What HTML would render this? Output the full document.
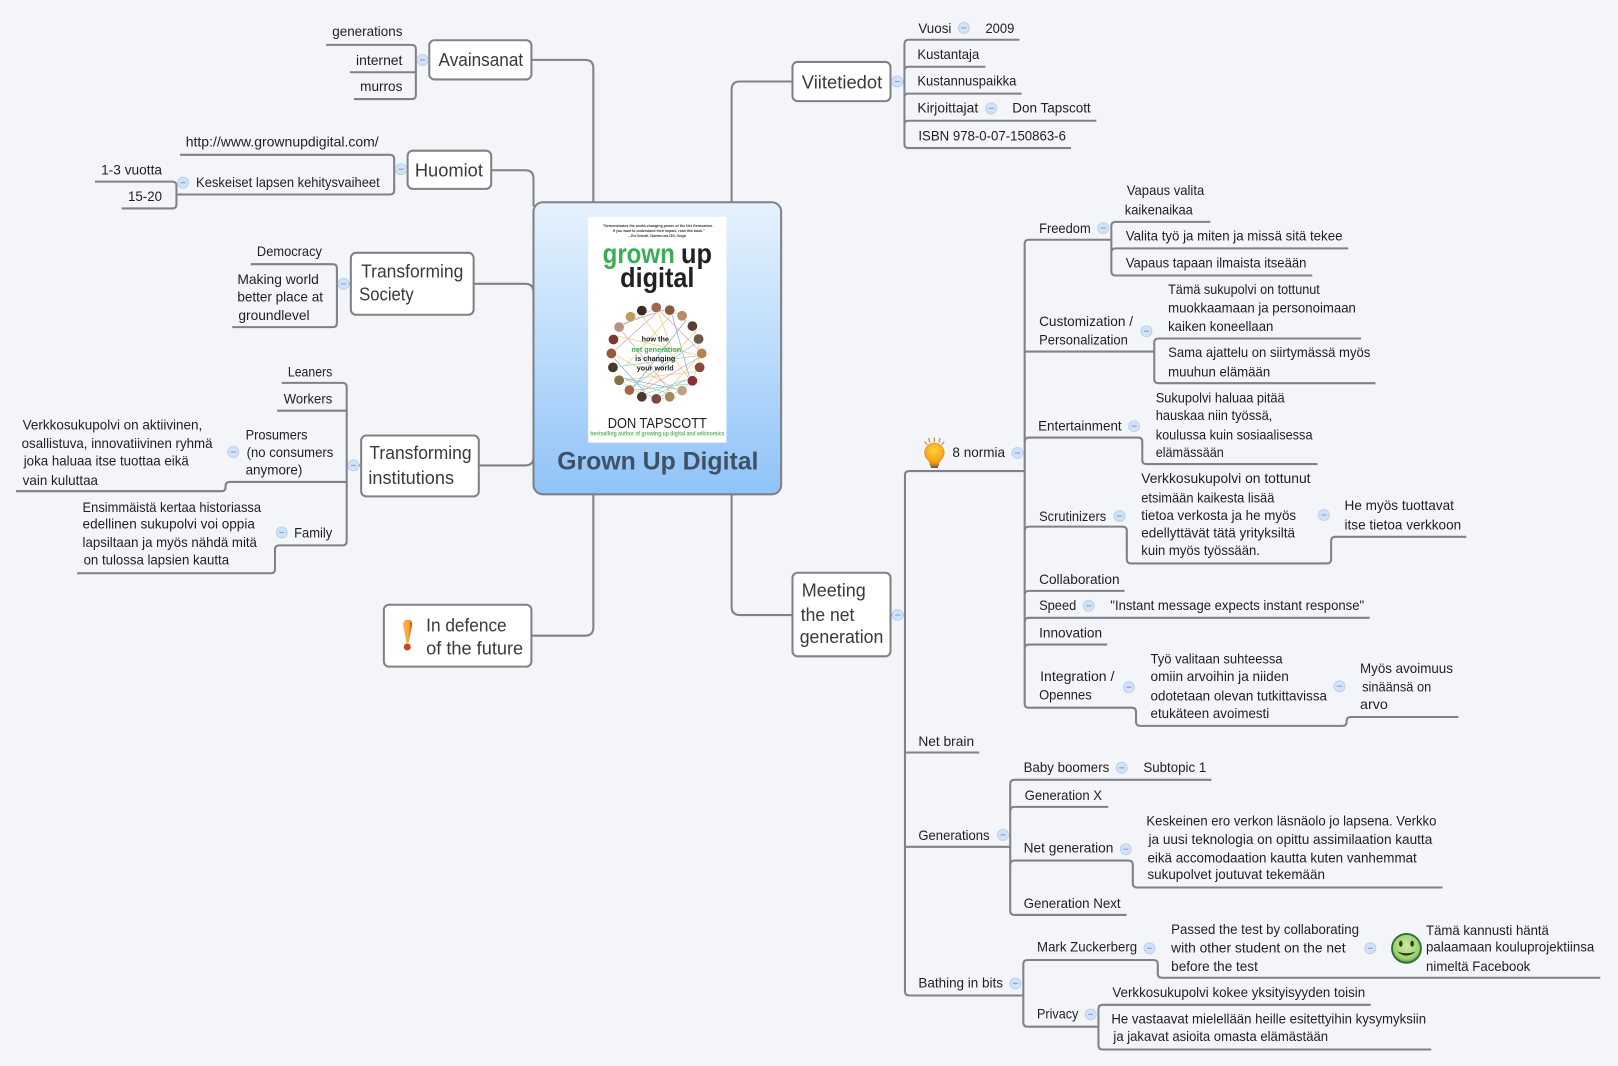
<!DOCTYPE html>
<html lang="fi"><head><meta charset="utf-8"><title>Grown Up Digital</title>
<style>
html,body{margin:0;padding:0;background:#f3f5f9;width:1618px;height:1066px;overflow:hidden}
svg{display:block}
text{font-family:"Liberation Sans",sans-serif}
.t text{font-size:13px;fill:#1f1f1f}
.b text{font-size:17.500px;fill:#3a3a3a}
.l{fill:none;stroke:#808287;stroke-width:2}
.n{fill:#fff;stroke:#808287;stroke-width:2}
</style></head><body>
<svg width="1618" height="1066" viewBox="0 0 1568 1033" xmlns="http://www.w3.org/2000/svg" preserveAspectRatio="none">
<defs>
<linearGradient id="g" x1="0" y1="0" x2="0" y2="1"><stop offset="0" stop-color="#e6f2fd"/><stop offset=".5" stop-color="#bcdcfb"/><stop offset="1" stop-color="#8fc3f8"/></linearGradient>
<radialGradient id="bulb" cx=".5" cy=".35" r=".65"><stop offset="0" stop-color="#ffd23c"/><stop offset=".7" stop-color="#f9a91a"/><stop offset="1" stop-color="#ee8f12"/></radialGradient>
<radialGradient id="sm" cx=".5" cy=".42" r=".6"><stop offset="0" stop-color="#cdeba0"/><stop offset=".75" stop-color="#9ed06a"/><stop offset="1" stop-color="#3f8a3f"/></radialGradient>
<linearGradient id="ex" x1="0" y1="0" x2="1" y2="0"><stop offset="0" stop-color="#fbb84a"/><stop offset=".6" stop-color="#f9a534"/><stop offset="1" stop-color="#c8481e"/></linearGradient>
<g id="m"><circle r="5.300" fill="#d3e3f7" stroke="#b9d2ef" stroke-width="1"/><rect x="-2.500" y="-.6" width="5" height="1.200" fill="#86aad8"/></g>
</defs>
<rect width="1568" height="1033" fill="#f3f5f9"/>

<g class="l">
<path d="M515 58H567Q575 58 575 66V196"/>
<path d="M768 79H717Q709 79 709 87V196"/>
<path d="M476 165H509Q517 165 517 173V200"/>
<path d="M459 275H509Q517 275 517 283V300"/>
<path d="M464 451H509Q517 451 517 443V430"/>
<path d="M515 616H567Q575 616 575 608V479"/>
<path d="M768 596H717Q709 596 709 588V479"/>
<path d="M316 43.500H399Q403 43.500 403 47.500V92Q403 96 399 96H343M339 70H403"/>
<path d="M403 58H416"/>
<path d="M174.500 150H378Q382 150 382 154V184.500Q382 188.500 378 188.500H171"/>
<path d="M382 165H395"/>
<path d="M92 176H167Q171 176 171 180V198Q171 202 167 202H118"/>
<path d="M243 256H322.500Q326.500 256 326.500 260V313Q326.500 317 322.500 317H225"/>
<path d="M326.500 275H340"/>
<path d="M273 371H332Q336 371 336 375V524.500Q336 528.500 332 528.500H270.500Q266.500 528.500 266.500 532.500V551.500Q266.500 555.500 262.500 555.500H74.700"/>
<path d="M268.500 398H336M336 467H222.600Q218.600 467 218.600 471V472Q218.600 476 214.600 476H15.500"/>
<path d="M336 451H350"/>
<path d="M988 38.500H880.500Q876.500 38.500 876.500 42.500V139.500Q876.500 143.500 880.500 143.500H1038"/>
<path d="M876.500 68.500Q876.500 64.700 880.500 64.700H955M876.500 94Q876.500 90.700 880.500 90.700H990M876.500 120Q876.500 117 880.500 117H1062.500"/>
<path d="M863 79H876.500"/>
<path d="M993 456.500H881Q877 456.500 877 460.500V960.700Q877 964.700 881 964.700H992"/>
<path d="M863 596H877M877 729.200H949M877 820.600H979"/>
<path d="M1077 232.300H997Q993 232.300 993 236.300V681.800Q993 685.800 997 685.800H1096.900Q1100.900 685.800 1100.900 689.800V699.400Q1100.900 703.400 1104.900 703.400H1301Q1305 703.400 1305 699.400V698.800Q1305 694.800 1309 694.800H1413.300"/>
<path d="M1173 215H1081Q1077 215 1077 219V263Q1077 267 1081 267H1271.700M1077 244.700Q1077 240.700 1081 240.700H1306.600"/>
<path d="M993 340.700H1118.600"/>
<path d="M1319 328H1122.600Q1118.600 328 1118.600 332V367.300Q1118.600 371.300 1122.600 371.300H1333"/>
<path d="M993 428Q993 424 997 424H1103Q1107 424 1107 428V445.700Q1107 449.700 1111 449.700H1276.800"/>
<path d="M993 514.300Q993 510.300 997 510.300H1088Q1092 510.300 1092 514.300V542Q1092 546 1096 546H1286Q1290 546 1290 542V524.200Q1290 520.200 1294 520.200H1421"/>
<path d="M993 576.600Q993 572.600 997 572.600H1089.800M993 602.700Q993 598.700 997 598.700H1327.400M993 628.600Q993 624.600 997 624.600H1073"/>
<path d="M1174 755.700H983Q979 755.700 979 759.700V882.600Q979 886.600 983 886.600H1091.800"/>
<path d="M979 785.900Q979 781.900 983 781.900H1074"/>
<path d="M979 837.900Q979 833.900 983 833.900H1093.800Q1097.800 833.900 1097.800 837.900V856Q1097.800 860 1101.800 860H1398"/>
<path d="M1118 930.300H995.700Q991.700 930.300 991.700 934.300V990.900Q991.700 994.900 995.700 994.900H1064.500"/>
<path d="M1118 930.300Q1122 930.300 1122 934.300V943.500Q1122 947.500 1126 947.500H1550.800"/>
<path d="M1328.400 973.700H1068.500Q1064.500 973.700 1064.500 977.700V1013Q1064.500 1017 1068.500 1017H1387"/>
</g>

<rect class="n" x="416" y="39" width="99" height="38" rx="5"/>
<rect class="n" x="395" y="146" width="81" height="37" rx="5"/>
<rect class="n" x="340" y="245" width="119" height="60" rx="5"/>
<rect class="n" x="350" y="422" width="114" height="59" rx="5"/>
<rect class="n" x="372" y="586" width="143" height="60" rx="5"/>
<rect class="n" x="768" y="60" width="95" height="38" rx="5"/>
<rect class="n" x="768" y="555" width="95" height="81" rx="5"/>

<rect x="517" y="196" width="240" height="283" rx="9" fill="url(#g)" stroke="#7f8186" stroke-width="2"/>
<rect x="570" y="210" width="134" height="219" fill="#fff"/>
<g>
<text x="584" y="255" font-size="27" font-weight="bold" fill="#3aae54" textLength="70" lengthAdjust="spacingAndGlyphs">grown</text>
<text x="660" y="255" font-size="27" font-weight="bold" fill="#222" textLength="30" lengthAdjust="spacingAndGlyphs">up</text>
<text x="601" y="278" font-size="27" font-weight="bold" fill="#222" textLength="72" lengthAdjust="spacingAndGlyphs">digital</text>
<text x="584" y="220" font-size="3.900" font-weight="bold" fill="#333" textLength="107" lengthAdjust="spacingAndGlyphs">"Demonstrates the world-changing power of the Net Generation.</text>
<text x="594" y="225" font-size="3.900" font-weight="bold" fill="#333" textLength="89" lengthAdjust="spacingAndGlyphs">If you want to understand their impact, read this book."</text>
<text x="609" y="229.500" font-size="3.900" font-weight="bold" fill="#333" textLength="56" lengthAdjust="spacingAndGlyphs">—Eric Schmidt, Chairman and CEO, Google</text>
</g>
<g stroke-width=".7" opacity=".8" fill="none">
<path d="M601 317L636 298M636 298L650 335M655 300L606 355M675 320L620 380M680 342L640 386M593 342L660 380M606 368L675 360M620 303L670 370M596 325L680 345" stroke="#e8c15a"/>
<path d="M611 307Q636 295 661 306M671 316Q684 340 671 369M600 368Q640 400 671 369" stroke="#ecd27a" stroke-width="1"/>
<path d="M600 315L645 300M593 345L625 380M597 365L660 378M650 300L668 365M665 310L612 378" stroke="#6b8ed6"/>
<path d="M612 375L678 330M630 385L672 365M640 386L655 385M606 368L650 382M600 355L675 345M615 378L668 372M625 382L664 368" stroke="#7cc4b4"/>
<path d="M636 298L680 342M593 342L640 300M620 380L680 345M602 320L655 386" stroke="#d88aa8"/>
</g>
<g fill="#a87a5c" stroke="#fff" stroke-width=".5">
<circle cx="636" cy="298" r="5" fill="#9a6a4c"/><circle cx="649" cy="300.500" r="5" fill="#8a5a3c"/><circle cx="661" cy="306" r="5" fill="#b98a66"/><circle cx="671" cy="316" r="5" fill="#5c3f30"/><circle cx="677" cy="328.500" r="5" fill="#6d5a48"/><circle cx="680" cy="342.500" r="5" fill="#b58250"/><circle cx="678" cy="356" r="5" fill="#8a4a3a"/><circle cx="671" cy="369" r="5" fill="#8a3038"/><circle cx="661" cy="378.500" r="5" fill="#c2a08a"/><circle cx="649" cy="384.500" r="5" fill="#a08a5a"/><circle cx="636" cy="386.500" r="5" fill="#7a4a40"/><circle cx="622" cy="384.500" r="5" fill="#4a3a30"/><circle cx="610" cy="378" r="5" fill="#a8664a"/><circle cx="600" cy="368.500" r="5" fill="#8a7040"/><circle cx="594" cy="356" r="5" fill="#4a3a28"/><circle cx="592.500" cy="342.500" r="5" fill="#9a5a38"/><circle cx="594.500" cy="329" r="5" fill="#7a3a30"/><circle cx="600" cy="317" r="5" fill="#b89088"/><circle cx="611" cy="307" r="5" fill="#c09a60"/><circle cx="622" cy="301" r="5" fill="#3a2a20"/>
</g>
<g font-size="7" font-weight="bold" text-anchor="middle" fill="#222">
<text x="635" y="331">how the</text><text x="636" y="341" fill="#3aae54">net generation</text><text x="635" y="350">is changing</text><text x="635" y="359">your world</text></g>
<text x="589" y="415" font-size="14" fill="#222" textLength="96" lengthAdjust="spacingAndGlyphs">DON TAPSCOTT</text>
<text x="572" y="422" font-size="6.500" font-weight="bold" fill="#5cb85c" textLength="130" lengthAdjust="spacingAndGlyphs">bestselling author of growing up digital and wikinomics</text>
<text x="540" y="455" font-size="24" font-weight="bold" fill="#3f5164" textLength="195" lengthAdjust="spacingAndGlyphs">Grown Up Digital</text>

<g class="b">
<text x="425" y="64" textLength="82" lengthAdjust="spacingAndGlyphs">Avainsanat</text>
<text x="402" y="171" textLength="66" lengthAdjust="spacingAndGlyphs">Huomiot</text>
<text x="350" y="269" textLength="99" lengthAdjust="spacingAndGlyphs">Transforming</text>
<text x="348" y="291" textLength="53" lengthAdjust="spacingAndGlyphs">Society</text>
<text x="358" y="445" textLength="99" lengthAdjust="spacingAndGlyphs">Transforming</text>
<text x="357" y="469" textLength="83" lengthAdjust="spacingAndGlyphs">institutions</text>
<text x="413" y="612" textLength="78" lengthAdjust="spacingAndGlyphs">In defence</text>
<text x="413" y="634" textLength="94" lengthAdjust="spacingAndGlyphs">of the future</text>
<text x="777" y="86" textLength="78" lengthAdjust="spacingAndGlyphs">Viitetiedot</text>
<text x="777" y="578" textLength="62" lengthAdjust="spacingAndGlyphs">Meeting</text>
<text x="776" y="602" textLength="52" lengthAdjust="spacingAndGlyphs">the net</text>
<text x="775" y="623" textLength="81" lengthAdjust="spacingAndGlyphs">generation</text>
</g>

<g class="t">
<text x="322" y="35" textLength="68" lengthAdjust="spacingAndGlyphs">generations</text>
<text x="345" y="63" textLength="45" lengthAdjust="spacingAndGlyphs">internet</text>
<text x="349" y="88" textLength="41" lengthAdjust="spacingAndGlyphs">murros</text>
<text x="180" y="142" textLength="187" lengthAdjust="spacingAndGlyphs">http://www.grownupdigital.com/</text>
<text x="190" y="181" textLength="178" lengthAdjust="spacingAndGlyphs">Keskeiset lapsen kehitysvaiheet</text>
<text x="98" y="169" textLength="59" lengthAdjust="spacingAndGlyphs">1-3 vuotta</text>
<text x="124" y="195" textLength="33" lengthAdjust="spacingAndGlyphs">15-20</text>
<text x="249" y="248" textLength="63" lengthAdjust="spacingAndGlyphs">Democracy</text>
<text x="230" y="275" textLength="79" lengthAdjust="spacingAndGlyphs">Making world</text>
<text x="230" y="292" textLength="83" lengthAdjust="spacingAndGlyphs">better place at</text>
<text x="231" y="310" textLength="69" lengthAdjust="spacingAndGlyphs">groundlevel</text>
<text x="279" y="365" textLength="43" lengthAdjust="spacingAndGlyphs">Leaners</text>
<text x="275" y="391" textLength="47" lengthAdjust="spacingAndGlyphs">Workers</text>
<text x="22" y="416" textLength="174" lengthAdjust="spacingAndGlyphs">Verkkosukupolvi on aktiivinen,</text>
<text x="21" y="434" textLength="185" lengthAdjust="spacingAndGlyphs">osallistuva, innovatiivinen ryhmä</text>
<text x="23" y="451" textLength="160" lengthAdjust="spacingAndGlyphs">joka haluaa itse tuottaa eikä</text>
<text x="22" y="470" textLength="73" lengthAdjust="spacingAndGlyphs">vain kuluttaa</text>
<text x="238" y="426" textLength="60" lengthAdjust="spacingAndGlyphs">Prosumers</text>
<text x="239" y="443" textLength="84" lengthAdjust="spacingAndGlyphs">(no consumers</text>
<text x="238" y="460" textLength="55" lengthAdjust="spacingAndGlyphs">anymore)</text>
<text x="285" y="521" textLength="37" lengthAdjust="spacingAndGlyphs">Family</text>
<text x="80" y="496" textLength="173" lengthAdjust="spacingAndGlyphs">Ensimmäistä kertaa historiassa</text>
<text x="80" y="512" textLength="167" lengthAdjust="spacingAndGlyphs">edellinen sukupolvi voi oppia</text>
<text x="80" y="530" textLength="169" lengthAdjust="spacingAndGlyphs">lapsiltaan ja myös nähdä mitä</text>
<text x="81" y="547" textLength="141" lengthAdjust="spacingAndGlyphs">on tulossa lapsien kautta</text>

<text x="890" y="32" textLength="32" lengthAdjust="spacingAndGlyphs">Vuosi</text>
<text x="955" y="32" textLength="28" lengthAdjust="spacingAndGlyphs">2009</text>
<text x="889" y="57" textLength="60" lengthAdjust="spacingAndGlyphs">Kustantaja</text>
<text x="889" y="83" textLength="96" lengthAdjust="spacingAndGlyphs">Kustannuspaikka</text>
<text x="889" y="109" textLength="59" lengthAdjust="spacingAndGlyphs">Kirjoittajat</text>
<text x="981" y="109" textLength="76" lengthAdjust="spacingAndGlyphs">Don Tapscott</text>
<text x="890" y="136" textLength="143" lengthAdjust="spacingAndGlyphs">ISBN 978-0-07-150863-6</text>

<text x="1092" y="189" textLength="75" lengthAdjust="spacingAndGlyphs">Vapaus valita</text>
<text x="1090" y="208" textLength="66" lengthAdjust="spacingAndGlyphs">kaikenaikaa</text>
<text x="1091" y="233" textLength="210" lengthAdjust="spacingAndGlyphs">Valita työ ja miten ja missä sitä tekee</text>
<text x="1091" y="259" textLength="175" lengthAdjust="spacingAndGlyphs">Vapaus tapaan ilmaista itseään</text>
<text x="1007" y="226" textLength="50" lengthAdjust="spacingAndGlyphs">Freedom</text>
<text x="1007" y="316" textLength="91" lengthAdjust="spacingAndGlyphs">Customization /</text>
<text x="1007" y="334" textLength="86" lengthAdjust="spacingAndGlyphs">Personalization</text>
<text x="1132" y="285" textLength="147" lengthAdjust="spacingAndGlyphs">Tämä sukupolvi on tottunut</text>
<text x="1132" y="303" textLength="182" lengthAdjust="spacingAndGlyphs">muokkaamaan ja personoimaan</text>
<text x="1132" y="321" textLength="102" lengthAdjust="spacingAndGlyphs">kaiken koneellaan</text>
<text x="1132" y="346" textLength="196" lengthAdjust="spacingAndGlyphs">Sama ajattelu on siirtymässä myös</text>
<text x="1132" y="365" textLength="99" lengthAdjust="spacingAndGlyphs">muuhun elämään</text>
<text x="1006" y="417" textLength="81" lengthAdjust="spacingAndGlyphs">Entertainment</text>
<text x="1120" y="390" textLength="125" lengthAdjust="spacingAndGlyphs">Sukupolvi haluaa pitää</text>
<text x="1120" y="407" textLength="113" lengthAdjust="spacingAndGlyphs">hauskaa niin työssä,</text>
<text x="1120" y="426" textLength="152" lengthAdjust="spacingAndGlyphs">koulussa kuin sosiaalisessa</text>
<text x="1120" y="443" textLength="66" lengthAdjust="spacingAndGlyphs">elämässään</text>
<text x="923" y="443" textLength="51" lengthAdjust="spacingAndGlyphs">8 normia</text>
<text x="1007" y="505" textLength="65" lengthAdjust="spacingAndGlyphs">Scrutinizers</text>
<text x="1106" y="468" textLength="164" lengthAdjust="spacingAndGlyphs">Verkkosukupolvi on tottunut</text>
<text x="1106" y="487" textLength="129" lengthAdjust="spacingAndGlyphs">etsimään kaikesta lisää</text>
<text x="1106" y="504" textLength="150" lengthAdjust="spacingAndGlyphs">tietoa verkosta ja he myös</text>
<text x="1106" y="521" textLength="149" lengthAdjust="spacingAndGlyphs">edellyttävät tätä yrityksiltä</text>
<text x="1106" y="538" textLength="115" lengthAdjust="spacingAndGlyphs">kuin myös työssään.</text>
<text x="1303" y="494" textLength="106" lengthAdjust="spacingAndGlyphs">He myös tuottavat</text>
<text x="1303" y="513" textLength="113" lengthAdjust="spacingAndGlyphs">itse tietoa verkkoon</text>
<text x="1007" y="566" textLength="78" lengthAdjust="spacingAndGlyphs">Collaboration</text>
<text x="1007" y="591" textLength="36" lengthAdjust="spacingAndGlyphs">Speed</text>
<text x="1076" y="591" textLength="246" lengthAdjust="spacingAndGlyphs">"Instant message expects instant response"</text>
<text x="1007" y="618" textLength="61" lengthAdjust="spacingAndGlyphs">Innovation</text>
<text x="1008" y="660" textLength="72" lengthAdjust="spacingAndGlyphs">Integration /</text>
<text x="1007" y="678" textLength="51" lengthAdjust="spacingAndGlyphs">Opennes</text>
<text x="1115" y="643" textLength="128" lengthAdjust="spacingAndGlyphs">Työ valitaan suhteessa</text>
<text x="1115" y="660" textLength="134" lengthAdjust="spacingAndGlyphs">omiin arvoihin ja niiden</text>
<text x="1115" y="679" textLength="171" lengthAdjust="spacingAndGlyphs">odotetaan olevan tutkittavissa</text>
<text x="1115" y="696" textLength="115" lengthAdjust="spacingAndGlyphs">etukäteen avoimesti</text>
<text x="1318" y="652" textLength="90" lengthAdjust="spacingAndGlyphs">Myös avoimuus</text>
<text x="1320" y="670" textLength="67" lengthAdjust="spacingAndGlyphs">sinäänsä on</text>
<text x="1318" y="687" textLength="27" lengthAdjust="spacingAndGlyphs">arvo</text>
<text x="890" y="723" textLength="54" lengthAdjust="spacingAndGlyphs">Net brain</text>
<text x="992" y="748" textLength="83" lengthAdjust="spacingAndGlyphs">Baby boomers</text>
<text x="1108" y="748" textLength="61" lengthAdjust="spacingAndGlyphs">Subtopic 1</text>
<text x="993" y="775" textLength="75" lengthAdjust="spacingAndGlyphs">Generation X</text>
<text x="992" y="826" textLength="87" lengthAdjust="spacingAndGlyphs">Net generation</text>
<text x="1111" y="800" textLength="281" lengthAdjust="spacingAndGlyphs">Keskeinen ero verkon läsnäolo jo lapsena. Verkko</text>
<text x="1113" y="818" textLength="275" lengthAdjust="spacingAndGlyphs">ja uusi teknologia on opittu assimilaation kautta</text>
<text x="1112" y="836" textLength="261" lengthAdjust="spacingAndGlyphs">eikä accomodaation kautta kuten vanhemmat</text>
<text x="1112" y="852" textLength="172" lengthAdjust="spacingAndGlyphs">sukupolvet joutuvat tekemään</text>
<text x="992" y="880" textLength="94" lengthAdjust="spacingAndGlyphs">Generation Next</text>
<text x="890" y="814" textLength="69" lengthAdjust="spacingAndGlyphs">Generations</text>
<text x="1135" y="905" textLength="182" lengthAdjust="spacingAndGlyphs">Passed the test by collaborating</text>
<text x="1135" y="923" textLength="169" lengthAdjust="spacingAndGlyphs">with other student on the net</text>
<text x="1135" y="941" textLength="84" lengthAdjust="spacingAndGlyphs">before the test</text>
<text x="1005" y="922" textLength="97" lengthAdjust="spacingAndGlyphs">Mark Zuckerberg</text>
<text x="1382" y="906" textLength="119" lengthAdjust="spacingAndGlyphs">Tämä kannusti häntä</text>
<text x="1382" y="922" textLength="163" lengthAdjust="spacingAndGlyphs">palaamaan kouluprojektiinsa</text>
<text x="1382" y="941" textLength="101" lengthAdjust="spacingAndGlyphs">nimeltä Facebook</text>
<text x="890" y="957" textLength="82" lengthAdjust="spacingAndGlyphs">Bathing in bits</text>
<text x="1005" y="987" textLength="40" lengthAdjust="spacingAndGlyphs">Privacy</text>
<text x="1078" y="966" textLength="245" lengthAdjust="spacingAndGlyphs">Verkkosukupolvi kokee yksityisyyden toisin</text>
<text x="1077" y="992" textLength="305" lengthAdjust="spacingAndGlyphs">He vastaavat mielellään heille esitettyihin kysymyksiin</text>
<text x="1079" y="1009" textLength="208" lengthAdjust="spacingAndGlyphs">ja jakavat asioita omasta elämästään</text>
</g>

<use href="#m" x="409.500" y="58"/><use href="#m" x="388.600" y="164"/><use href="#m" x="177.500" y="177"/><use href="#m" x="333" y="275"/><use href="#m" x="342.600" y="451"/><use href="#m" x="226" y="438"/><use href="#m" x="273" y="516"/>
<use href="#m" x="869.500" y="79"/><use href="#m" x="934" y="27"/><use href="#m" x="960.500" y="105"/><use href="#m" x="870" y="596"/>
<use href="#m" x="986" y="439"/><use href="#m" x="1069" y="221"/><use href="#m" x="1111" y="321"/><use href="#m" x="1099" y="413"/><use href="#m" x="1085" y="500"/><use href="#m" x="1283" y="499"/><use href="#m" x="1055" y="587"/><use href="#m" x="1094" y="666"/><use href="#m" x="1298" y="665"/>
<use href="#m" x="972" y="809"/><use href="#m" x="1087" y="744"/><use href="#m" x="1091" y="823"/><use href="#m" x="984" y="953"/><use href="#m" x="1114" y="919"/><use href="#m" x="1328" y="919"/><use href="#m" x="1057" y="983"/>

<g>
<path d="M905.500 429.500c-6 0-9.500 4.500-9.500 9.500 0 5 4.500 7 5.500 10.500h8c1-3.500 5.500-5.500 5.500-10.500 0-5-3.500-9.500-9.500-9.500z" fill="url(#bulb)" stroke="#e08a18" stroke-width=".6"/>
<rect x="901" y="449.500" width="9" height="2" fill="#a8843c"/><rect x="902" y="451.500" width="7" height="2" fill="#7a5f28"/>
<path d="M905.500 424v4.500M900 424.500l1 4.200M911 424.500l-1 4.200M896 428l2.500 3M915 428l-2.500 3" stroke="#b89a60" stroke-width="1.300" fill="none"/>
</g>
<path d="M390.500 605c0-6 9-6 9 0l-3.500 18h-2z" fill="url(#ex)"/>
<circle cx="394.700" cy="627" r="3.400" fill="#c8481e"/>
<g>
<circle cx="1363" cy="919" r="14" fill="url(#sm)" stroke="#2f6f3a" stroke-width="1.800"/>
<ellipse cx="1357.500" cy="914.500" rx="1.700" ry="3" fill="#243a1a"/><ellipse cx="1368.500" cy="914.500" rx="1.700" ry="3" fill="#243a1a"/>
<path d="M1354 922q9 8 18 0q-9 3.500-18 0z" fill="#243a1a"/>
</g>
</svg>
</body></html>
